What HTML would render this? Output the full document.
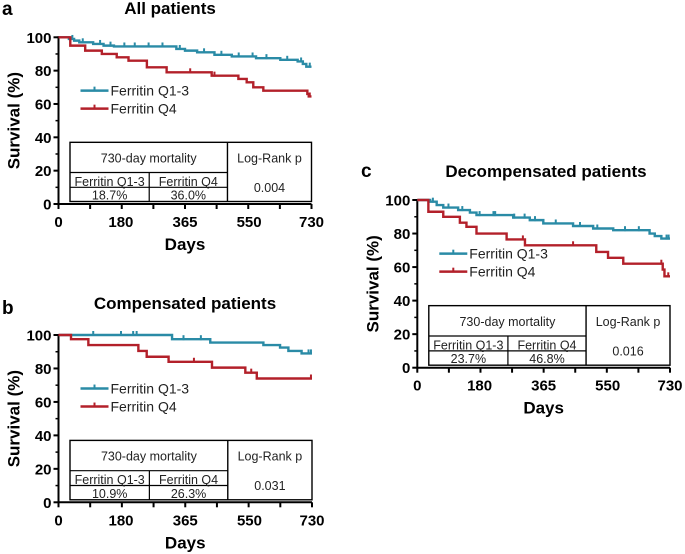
<!DOCTYPE html>
<html><head><meta charset="utf-8"><style>
body{margin:0;background:#fff;width:685px;height:554px;overflow:hidden}
svg{display:block;font-family:"Liberation Sans",Arial,sans-serif}
</style></head><body>
<svg id="chart" width="685" height="554" viewBox="0 0 685 554" xmlns="http://www.w3.org/2000/svg"></svg>
<script>
// ---- data ----
const xTicks = [0, 180, 365, 550, 730];
const yTicks = [0, 20, 40, 60, 80, 100];
// Panel a: All patients
const aLowDays = [0, 30, 45, 60, 100, 130, 160, 340, 365, 400, 450, 500, 570, 640, 690, 705, 715];
const aLowSurv = [100, 99, 98, 97, 96, 95, 94.5, 93, 92, 91, 89.5, 88.5, 87.5, 86.5, 85.5, 84, 82.4];
const aLowCens = [40, 70, 120, 150, 190, 220, 260, 300, 350, 420, 470, 520, 560, 600, 660, 700, 725];
const aHighDays = [0, 34, 77, 125, 168, 202, 255, 312, 442, 519, 543, 562, 591, 718, 722];
const aHighSurv = [100, 95, 92, 90, 88, 86, 82, 79, 77, 75, 73, 70, 68, 66, 64.5];
const aHighCens = [380, 450, 725];
const aMort = ["18.7%", "36.0%", "0.004"];
// Panel b: Compensated
const bLowDays = [0, 327, 437, 590, 638, 662, 700];
const bLowSurv = [100, 97.5, 95.5, 94, 92.5, 90.5, 89];
const bLowCens = [100, 180, 215, 225, 360, 410, 720, 727];
const bHighDays = [0, 36, 86, 230, 254, 317, 442, 538, 571];
const bHighSurv = [100, 97.5, 94, 90.5, 87, 84, 80.5, 77.5, 74];
const bHighCens = [390, 555, 727];
const bMort = ["10.9%", "26.3%", "0.031"];
// Panel c: Decompensated
const cLowDays = [0, 37, 56, 75, 118, 152, 171, 277, 325, 364, 450, 508, 566, 671, 686, 705];
const cLowSurv = [100, 99, 97, 95.5, 94, 92.5, 91, 89.5, 88, 86, 84.5, 83, 82, 80, 78.5, 77];
const cLowCens = [45, 90, 130, 180, 220, 225, 280, 310, 340, 400, 470, 520, 600, 640, 720, 726];
const cHighDays = [0, 32, 75, 123, 142, 171, 258, 311, 517, 551, 595, 709, 714];
const cHighSurv = [100, 93, 90, 86.5, 84, 80, 76.5, 73, 69, 65.5, 62, 58.5, 54.5];
const cHighCens = [305, 450, 705, 725];
const cMort = ["23.7%", "46.8%", "0.016"];

const NS = "http://www.w3.org/2000/svg";
const svg = document.getElementById("chart");
const TEAL = "#2a8ba6", RED = "#b3202a";
function mk(tag, attrs, parent, text) {
  const e = document.createElementNS(NS, tag);
  for (const k in attrs) e.setAttribute(k, attrs[k]);
  if (text !== undefined) e.textContent = text;
  (parent || svg).appendChild(e);
  return e;
}

function panel(name, letter, title, fr, lowD, lowS, lowC, highD, highS, highC, mort) {
  const g = mk("g", {});
  
  
  const xs = d => fr.x0 + (d / 730) * (fr.x1 - fr.x0);
  const ys = v => fr.y0 + (v / 100) * (fr.y1 - fr.y0);
  const lt = mk("text", {x: fr.lx, y: fr.ly, "font-size": 19, "font-weight": "bold"}, g, letter);
  
  
  const tt = mk("text", {x: fr.tx, y: fr.ty, "font-size": 17, "font-weight": "bold", "text-anchor": "middle"}, g, title);
  
  
  // axes
  const ax = mk("path", {d: `M${fr.x0},${fr.y1 - 1}V${fr.y0}H${fr.x1}`, stroke: "#000", "stroke-width": 2, fill: "none"}, g);
  
  
  yTicks.forEach(v => {
    mk("line", {x1: fr.x0 - 5, x2: fr.x0, y1: ys(v), y2: ys(v), stroke: "#000", "stroke-width": 2}, g);
    if (v < 100) mk("line", {x1: fr.x0 - 3, x2: fr.x0, y1: ys(v + 10), y2: ys(v + 10), stroke: "#000", "stroke-width": 1.5}, g);
    const t = mk("text", {x: fr.x0 - 7, y: ys(v) + 5.5, "font-size": 15, "font-weight": "bold", "text-anchor": "end"}, g, v);
    
    
  });
  for (let d = 0; d <= 730; d += 730 / 8) {
    mk("line", {x1: xs(d), x2: xs(d), y1: fr.y0, y2: fr.y0 + 5, stroke: "#000", "stroke-width": 2}, g);
  }
  xTicks.forEach(d => {
    const t = mk("text", {x: xs(d), y: fr.y0 + 23, "font-size": 15, "font-weight": "bold", "text-anchor": "middle"}, g, d);
    
    
  });
  const xt = mk("text", {x: (fr.x0 + fr.x1) / 2, y: fr.y0 + 46, "font-size": 17, "font-weight": "bold", "text-anchor": "middle"}, g, "Days");
  
  
  const cy = (fr.y0 + fr.y1) / 2;
  const yt = mk("text", {x: fr.x0 - 39, y: cy, "font-size": 17, "font-weight": "bold", "text-anchor": "middle", transform: `rotate(-90 ${fr.x0 - 39} ${cy})`}, g, "Survival (%)");
  
  
  // curves
  function curve(D, S, C, col, key) {
    let p = `M${xs(D[0])},${ys(S[0])}`;
    for (let i = 1; i < D.length; i++) p += `H${xs(D[i])}V${ys(S[i])}`;
    p += `H${xs(730)}`;
    const l = mk("path", {d: p, stroke: col, "stroke-width": 2.4, fill: "none"}, g);
    
    
    C.forEach(c => {
      let v = S[0];
      for (let i = 0; i < D.length; i++) if (D[i] <= c) v = S[i];
      const m = mk("line", {x1: xs(c), x2: xs(c), y1: ys(v) - 4, y2: ys(v) + 1, stroke: col, "stroke-width": 2}, g);
      
      
    });
  }
  curve(lowD, lowS, lowC, TEAL, "q1-3");
  curve(highD, highS, highC, RED, "q4");
  // legend
  const lgx = fr.x0 + 22, lgy = ys(68);
  [["Ferritin Q1-3", TEAL], ["Ferritin Q4", RED]].forEach((e, i) => {
    const y = lgy + i * 18;
    const le = mk("g", {}, g);
    
    
    mk("line", {x1: lgx, x2: lgx + 28, y1: y, y2: y, stroke: e[1], "stroke-width": 2.5}, le);
    mk("line", {x1: lgx + 14, x2: lgx + 14, y1: y - 4, y2: y, stroke: e[1], "stroke-width": 2}, le);
    mk("text", {x: lgx + 30, y: y + 5, "font-size": 14, fill: "#222"}, le, e[0]);
  });
  // table
  const tx0 = fr.x0 + 11.5, tx1 = fr.x1, ty0 = ys(37), ty1 = ys(1.5);
  const tb = mk("g", {}, g);
  
  
  const cMid = tx0 + (tx1 - tx0) * 0.652, cSub = tx0 + (tx1 - tx0) * 0.328;
  const r1 = ty0 + (ty1 - ty0) * 0.51, r2 = ty0 + (ty1 - ty0) * 0.76;
  mk("rect", {x: tx0, y: ty0, width: tx1 - tx0, height: ty1 - ty0, fill: "#fff", stroke: "#000", "stroke-width": 1.4}, tb);
  mk("line", {x1: cMid, x2: cMid, y1: ty0, y2: ty1, stroke: "#000", "stroke-width": 1.4}, tb);
  mk("line", {x1: tx0, x2: cMid, y1: r1, y2: r1, stroke: "#000", "stroke-width": 1.2}, tb);
  mk("line", {x1: tx0, x2: cMid, y1: r2, y2: r2, stroke: "#000", "stroke-width": 1.2}, tb);
  mk("line", {x1: cSub, x2: cSub, y1: r1, y2: ty1, stroke: "#000", "stroke-width": 1.2}, tb);
  const fs = 12.5;
  mk("text", {x: (tx0 + cMid) / 2, y: (ty0 + r1) / 2 + 5, "font-size": fs, "text-anchor": "middle", fill: "#222"}, tb, "730-day mortality");
  mk("text", {x: (cMid + tx1) / 2, y: (ty0 + r1) / 2 + 5, "font-size": fs, "text-anchor": "middle", fill: "#222"}, tb, "Log-Rank p");
  mk("text", {x: (tx0 + cSub) / 2, y: r2 - 1.5, "font-size": fs, "text-anchor": "middle", fill: "#222"}, tb, "Ferritin Q1-3");
  mk("text", {x: (cSub + cMid) / 2, y: r2 - 1.5, "font-size": fs, "text-anchor": "middle", fill: "#222"}, tb, "Ferritin Q4");
  mk("text", {x: (tx0 + cSub) / 2, y: ty1 - 2, "font-size": fs, "text-anchor": "middle", fill: "#222"}, tb, mort[0]);
  mk("text", {x: (cSub + cMid) / 2, y: ty1 - 2, "font-size": fs, "text-anchor": "middle", fill: "#222"}, tb, mort[1]);
  mk("text", {x: (cMid + tx1) / 2, y: (r1 + ty1) / 2 + 5, "font-size": fs, "text-anchor": "middle", fill: "#222"}, tb, mort[2]);
}

panel("all-patients", "a", "All patients", {x0: 58.5, x1: 311.5, y0: 204, y1: 37.3, lx: 2, ly: 15, tx: 170, ty: 14},
  aLowDays, aLowSurv, aLowCens, aHighDays, aHighSurv, aHighCens, aMort);
panel("compensated", "b", "Compensated patients", {x0: 58.5, x1: 312, y0: 502.3, y1: 335, lx: 2, ly: 314, tx: 185, ty: 309},
  bLowDays, bLowSurv, bLowCens, bHighDays, bHighSurv, bHighCens, bMort);
panel("decompensated", "c", "Decompensated patients", {x0: 417.3, x1: 670, y0: 367.7, y1: 200, lx: 361, ly: 177, tx: 546, ty: 177},
  cLowDays, cLowSurv, cLowCens, cHighDays, cHighSurv, cHighCens, cMort);
</script>
</body></html>
